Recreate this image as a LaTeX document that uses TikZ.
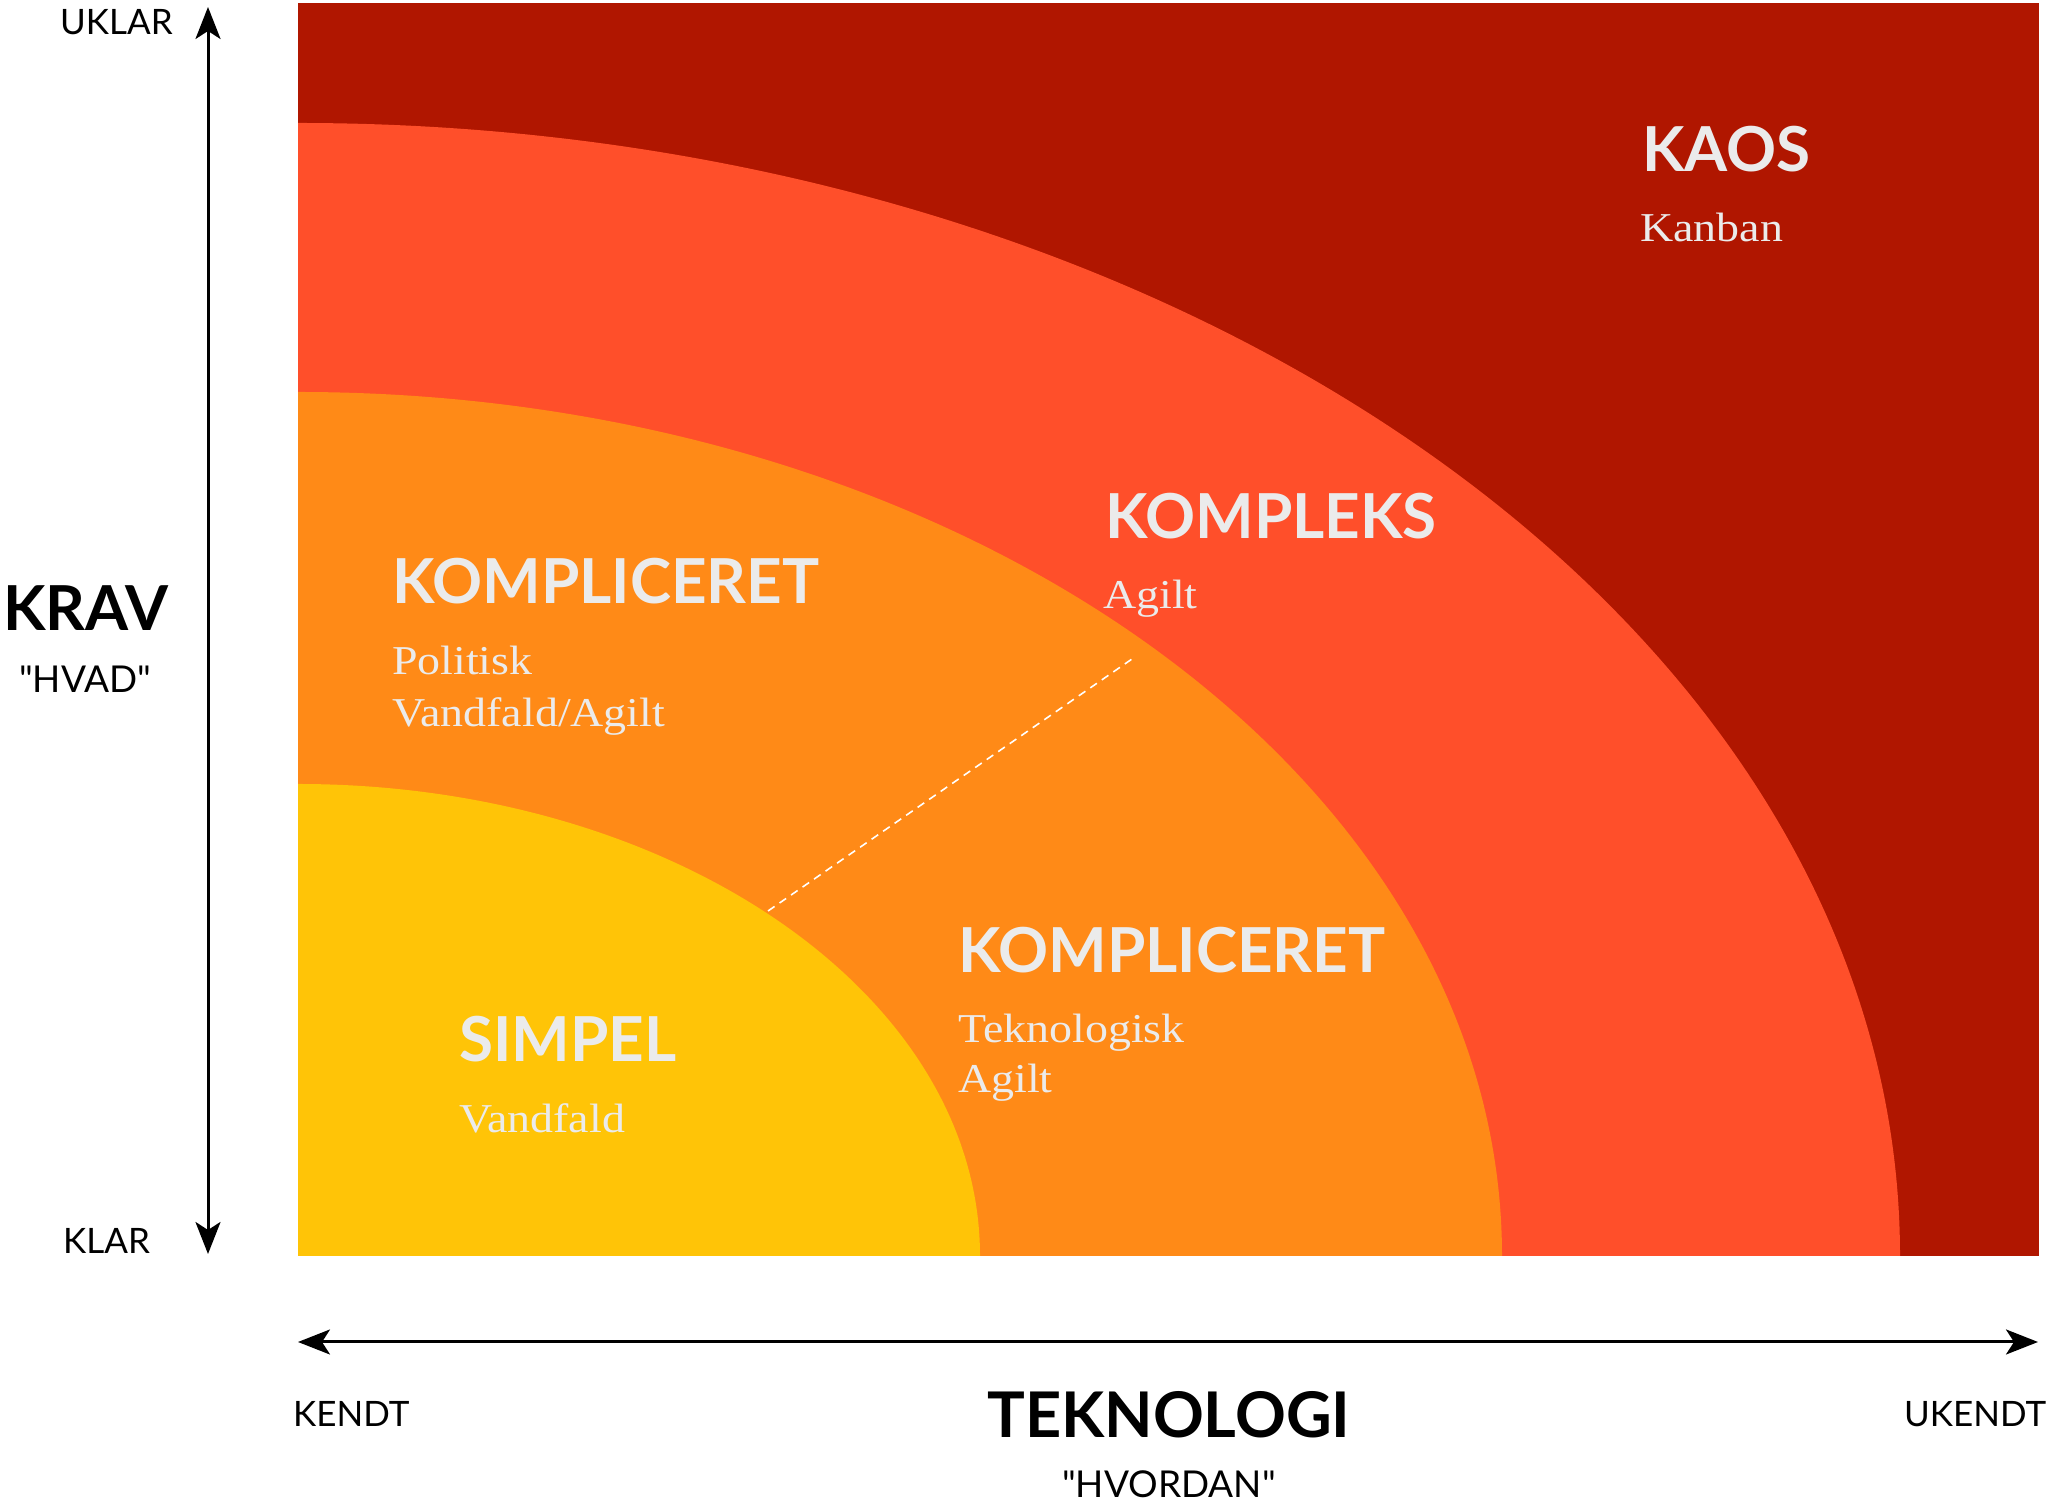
\documentclass[tikz,border=0pt]{standalone}
\usepackage{fontspec}
\usetikzlibrary{arrows.meta}
\setmainfont{Lato}
\newfontfamily\titlef{Lato}
\newfontfamily\serf[FakeStretch=1.12]{Liberation Serif}
\definecolor{kaos}{HTML}{B01600}
\definecolor{kompleks}{HTML}{FF4F2A}
\definecolor{komplic}{HTML}{FF8A17}
\definecolor{simpel}{HTML}{FFC407}
\definecolor{ltext}{HTML}{EBEBEB}
\tikzset{
  title/.style={anchor=base west,inner sep=0pt,text=ltext,font=\titlef\bfseries\fontsize{62}{62}\selectfont},
  sub/.style={anchor=base west,inner sep=0pt,text=ltext,font=\serf\fontsize{41}{41}\selectfont},
  axbig/.style={anchor=base west,inner sep=0pt,text=black,font=\titlef\bfseries\fontsize{62}{62}\selectfont},
  axsmall/.style={anchor=base west,inner sep=0pt,text=black,font=\titlef\fontsize{35}{35}\selectfont},
  axquote/.style={anchor=base west,inner sep=0pt,text=black,font=\titlef\fontsize{37}{37}\selectfont},
  axarrow/.style={line width=3pt,{Stealth[length=32pt,width=25pt,inset=8pt]}-{Stealth[length=32pt,width=25pt,inset=8pt]}},
  divider/.style={white,line width=1.6pt,dash pattern=on 8pt off 6pt}
}
\begin{document}
\begin{tikzpicture}[x=1pt,y=1pt]
\useasboundingbox (0,0) rectangle (2048,1512);
% regions
\fill[kaos] (298,256) rectangle (2039,1508.7);
\fill[kompleks] (298,256) -- (298,1389) arc[start angle=90,end angle=0,x radius=1602pt,y radius=1133pt] -- cycle;
\fill[komplic] (298,256) -- (298,1120) arc[start angle=90,end angle=0,x radius=1204pt,y radius=864pt] -- cycle;
\fill[simpel] (298,256) -- (298,728) arc[start angle=90,end angle=0,x radius=682pt,y radius=472pt] -- cycle;
% divider
\coordinate (d1) at (768,601);
\coordinate (d2) at (1132,853);
\draw[divider] (d1) -- (d2);
% axes
\coordinate (vb) at (208,258);
\coordinate (vt) at (208,1505);
\coordinate (hl) at (298,170);
\coordinate (hr) at (2038,170);
\draw[axarrow] (vb) -- (vt);
\draw[axarrow] (hl) -- (hr);
% axis labels
\node[axsmall] (uklar) at (60,1477) {UKLAR};
\node[axsmall] (klar) at (63,258) {KLAR};
\node[axbig] (krav) at (3,881) {KRAV};
\node[axquote] (hvad) at (19,819) {"HVAD"};
\node[axsmall] (kendt) at (293,85) {KENDT};
\node[axsmall] (ukendt) at (1904,85) {UKENDT};
\node[axbig,font=\titlef\bfseries\fontsize{63}{63}\selectfont] (tek) at (987,74) {TEKNOLOGI};
\node[axquote] (hvordan) at (1062,14) {"HVORDAN"};
% region labels
\node[title] (kaosT) at (1642,1340) {KAOS};
\node[sub] (kaosS) at (1640,1270) {Kanban};
\node[title] (pol) at (392,908) {KOMPLICERET};
\node[sub] (polS1) at (392,837) {Politisk};
\node[sub] (polS2) at (392,785) {Vandfald/Agilt};
\node[title] (kompT) at (1105,973) {KOMPLEKS};
\node[sub] (kompS) at (1103,903) {Agilt};
\node[title] (tekT) at (958,539) {KOMPLICERET};
\node[sub] (tekS1) at (958,469) {Teknologisk};
\node[sub] (tekS2) at (958,419) {Agilt};
\node[title] (simT) at (459,450) {SIMPEL};
\node[sub] (simS) at (459,379) {Vandfald};
\end{tikzpicture}
\end{document}
